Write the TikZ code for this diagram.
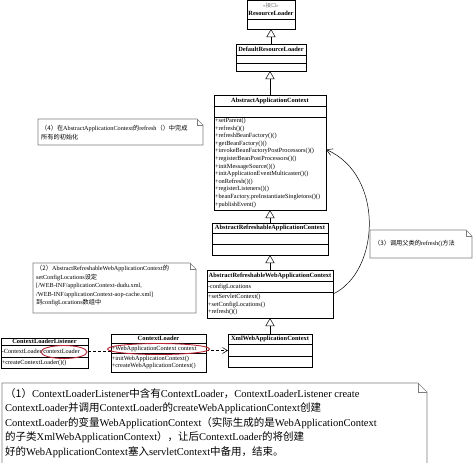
\documentclass[tikz,border=0pt]{standalone}
\usepackage{fontspec}
\setmainfont{Liberation Serif}
\newfontfamily\cjkfont{Noto Sans CJK SC}
\usetikzlibrary{arrows.meta,shapes.geometric}
\newcommand\zh[1]{{\cjkfont #1}}
\definecolor{notegray}{RGB}{125,125,125}
\definecolor{markred}{RGB}{185,35,50}
\definecolor{stereo}{RGB}{110,110,110}
\newcommand\umlbox[5]{%
  \node[box,anchor=north west,minimum width={(#4-#2)*1pt},minimum height={(#5-#3)*1pt}] (#1) at (#2,#3) {};}
\newcommand\notebox[5]{%
  \draw[notebd] (#1,#2) -- ({#3-#5},#2) -- (#3,{#2+#5}) -- (#3,#4) -- (#1,#4) -- cycle;
  \draw[notebd] ({#3-#5},#2) -- ({#3-#5},{#2+#5}) -- (#3,{#2+#5});}
\begin{document}
\begin{tikzpicture}[x=1pt,y=-1pt,
  box/.style={draw=black,line width=0.55pt,inner sep=0pt,outer sep=0pt},
  sepl/.style={draw=black,line width=0.5pt},
  ttl/.style={font=\fontsize{6.4}{7}\selectfont\bfseries,inner sep=0pt},
  mem/.style={font=\fontsize{6.3}{7}\selectfont,inner sep=0pt,anchor=west},
  gen/.style={draw=black,line width=0.5pt,-{Triangle[open,width=9pt,length=8pt,line width=0.5pt]}},
  dep/.style={draw=black,line width=0.55pt,dash pattern=on 3pt off 2pt},
  notebd/.style={draw=notegray,line width=0.7pt,line join=miter},
  ntxt/.style={font=\fontsize{6.2}{8.5}\selectfont,inner sep=0pt,anchor=north west,align=left},
  redring/.style={draw=markred,line width=0.9pt,ellipse,inner sep=0pt}
]
\useasboundingbox (0,0) rectangle (474,463);

% ---------- class boxes ----------
\umlbox{RL}{247}{0}{295}{29}
\draw[sepl] (247,19) -- (295,19);
\node[ttl,font=\fontsize{5.2}{6}\selectfont,text=stereo] (RLst) at (271,5.5) {<<\zh{接口}>>};
\node[ttl] (RLt) at (271,13.5) {ResourceLoader};

\umlbox{DRL}{236}{44}{306}{71}
\draw[sepl] (236,55) -- (306,55);
\draw[sepl] (236,63) -- (306,63);
\node[ttl] (DRLt) at (271,49.5) {DefaultResourceLoader};

\umlbox{AAC}{214}{95}{326}{210}
\draw[sepl] (214,106) -- (326,106);
\draw[sepl] (214,117) -- (326,117);
\node[ttl] (AACt) at (270,100.5) {AbstractApplicationContext};
\foreach \t [count=\i from 0] in {+setParent(),+refresh()(),+refreshBeanFactory()(),+getBeanFactory()(),+invokeBeanFactoryPostProcessors()(),+registerBeanPostProcessors()(),+initMessageSource()(),+initApplicationEventMulticaster()(),+onRefresh()(),+registerListeners()(),+beanFactory.preInstantiateSingletons()(),+publishEvent()}
  {\node[mem] (aac\i) at (214.8,{121+7.6*\i}) {\t};}

\umlbox{ARAC}{212}{223}{328}{255}
\draw[sepl] (212,233) -- (328,233);
\draw[sepl] (212,244) -- (328,244);
\node[ttl] (ARACt) at (270,228) {AbstractRefreshableApplicationContext};

\umlbox{ARWAC}{207}{270}{333}{318}
\draw[sepl] (207,281) -- (333,281);
\draw[sepl] (207,292) -- (333,292);
\node[ttl] (ARWACt) at (270,275.5) {AbstractRefreshableWebApplicationContext};
\node[mem] (arw0) at (207.8,286.5) {-configLocations};
\node[mem] (arw1) at (207.8,297) {+setServletContext()};
\node[mem] (arw2) at (207.8,304.7) {+setConfigLocations()};
\node[mem] (arw3) at (207.8,312.3) {+refresh()()};

\umlbox{XML}{228}{334}{312}{367}
\draw[sepl] (228,344) -- (312,344);
\draw[sepl] (228,356) -- (312,356);
\node[ttl] (XMLt) at (270,339) {XmlWebApplicationContext};

\umlbox{CL}{111}{334}{206}{372}
\draw[sepl] (111,343) -- (206,343);
\draw[sepl] (111,353.5) -- (206,353.5);
\node[ttl] (CLt) at (158.5,338.5) {ContextLoader};
\node[mem] (cl0) at (111.6,348.5) {+WebApplicationContext context};
\node[mem] (cl1) at (111.6,358.5) {+initWebApplicationContext()};
\node[mem] (cl2) at (111.6,366) {+createWebApplicationContext()};

\umlbox{CLL}{1}{338}{88}{368}
\draw[sepl] (1,345) -- (88,345);
\draw[sepl] (1,357) -- (88,357);
\node[ttl] (CLLt) at (44.5,341.5) {ContextLoaderListener};
\node[mem] (cll0) at (1.6,351.5) {-ContextLoader contextLoader};
\node[mem] (cll1) at (1.6,362.5) {+createContextLoader()()};

% ---------- generalizations ----------
\draw[gen] (DRL.north) -- (RL.south);
\draw[gen] (AAC.north) -- (AAC.north |- DRL.south);
\draw[gen] (ARAC.north) -- (ARAC.north |- AAC.south);
\draw[gen] (ARWAC.north) -- (ARWAC.north |- ARAC.south);
\draw[gen] (XML.north) -- (XML.north |- ARWAC.south);

% ---------- dependencies ----------
\draw[dep] ([yshift=1.5pt]CLL.east) -- ([yshift=1.5pt]CL.west);
\draw[dep,-{Straight Barb[length=5pt,width=6pt]}] (CL.east |- XML.west) -- (XML.west);

% ---------- red marks ----------
\node[redring,minimum width=46pt,minimum height=13pt] (r1) at (64,352) {};
\node[redring,minimum width=102pt,minimum height=11pt] (r2) at (158.5,349) {};

% ---------- call arrow (3) ----------
\draw[line width=0.5pt,-{Straight Barb[length=6pt,width=7pt]}] (ARWAC.east) .. controls (380,272) and (385,175) .. ([yshift=3pt]AAC.east);

% ---------- notes ----------
\notebox{38}{119}{203}{145}{6}
\node[ntxt,font=\fontsize{6.2}{9}\selectfont] (n4) at (41,124.5) {\zh{（4）在}AbstractApplicationContext\zh{的}refresh\zh{（）中完成}\\\zh{所有的初始化}};

\notebox{370}{230}{472}{258}{6}
\node[ntxt] (n3) at (374,240) {\zh{（3）调用父类的}refresh()\zh{方法}};

\notebox{33}{263}{196}{313}{6}
\node[ntxt] (n2) at (36,265.3) {\zh{（2）}AbstractRefreshableWebApplicationContext\zh{的}\\
setConfigLocations\zh{设定}\\
{[}/WEB-INF/applicationContext-dudu.xml,\\
/WEB-INF/applicationContext-aop-cache.xml]\\
\zh{到}configLocations\zh{数组中}};

\notebox{2}{383}{427}{470}{9}
\node[ntxt,font=\fontsize{10.5}{14.5}\selectfont] (n1) at (5,388) {\zh{（1）}ContextLoaderListener\zh{中含有}ContextLoader\zh{，}ContextLoaderListener create\\
ContextLoader\zh{并调用}ContextLoader\zh{的}createWebApplicationContext\zh{创建}\\
ContextLoader\zh{的变量}WebApplicationContext\zh{（实际生成的是}WebApplicationContext\\
\zh{的子类}XmlWebApplicationContext\zh{），让后}ContextLoader\zh{的将创建}\\
\zh{好的}WebApplicationContext\zh{塞入}servletContext\zh{中备用，结束。}};
\end{tikzpicture}
\end{document}
